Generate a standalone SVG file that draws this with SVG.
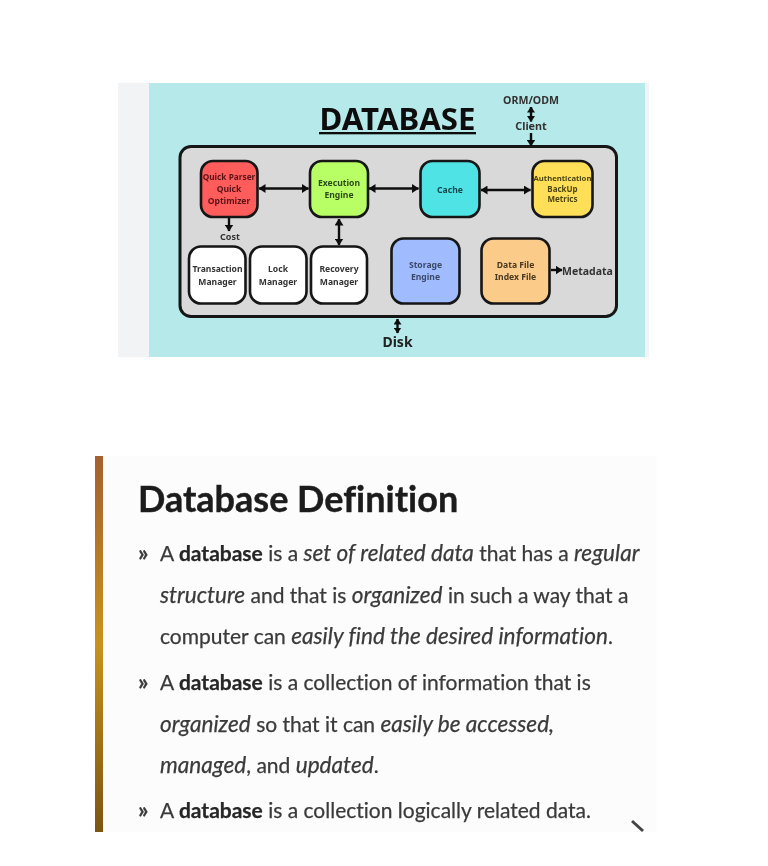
<svg xmlns="http://www.w3.org/2000/svg" width="768" height="866" viewBox="0 0 768 866">
<style>
.n{stroke:#141414;stroke-width:2.6}
.t{font-family:"Noto Sans","Open Sans",sans-serif;font-weight:700;text-anchor:middle;fill:#333}
.s{font-size:8.6px}
.c{stroke:#111;stroke-width:2.4;fill:none;marker-end:url(#a);marker-start:url(#b)}
.e{stroke:#111;stroke-width:2.4;fill:none;marker-end:url(#a)}
.h{font-family:Lato,"Open Sans",sans-serif;font-weight:700;font-size:36px;fill:#1c1c1c;stroke:#1c1c1c;stroke-width:.4;font-variant-ligatures:none}
.l{font-family:Lato,"Open Sans",sans-serif;font-size:21px;fill:#3a3a3a;stroke:#3a3a3a;stroke-width:.25;font-variant-ligatures:none}
.b{font-weight:700;font-size:23px}
.l tspan.d{font-weight:700;fill:#262626;stroke:#262626}
.l tspan.i{font-style:italic;font-size:22.6px}
</style>
<defs>
<marker id="a" viewBox="0 0 7 9" refX="6.500" refY="4.500" markerWidth="7" markerHeight="9" orient="auto" markerUnits="userSpaceOnUse"><path d="M0 0L7 4.500L0 9z" fill="#111"/></marker>
<marker id="b" viewBox="0 0 7 9" refX="0.500" refY="4.500" markerWidth="7" markerHeight="9" orient="auto" markerUnits="userSpaceOnUse"><path d="M7 0L0 4.500L7 9z" fill="#111"/></marker>
<marker id="a2" viewBox="0 0 6 8" refX="5.500" refY="4" markerWidth="6" markerHeight="8" orient="auto" markerUnits="userSpaceOnUse"><path d="M0 0L6 4L0 8z" fill="#111"/></marker>
<marker id="b2" viewBox="0 0 6 8" refX="0.500" refY="4" markerWidth="6" markerHeight="8" orient="auto" markerUnits="userSpaceOnUse"><path d="M6 0L0 4L6 8z" fill="#111"/></marker>
<linearGradient id="bar" x1="0" y1="0" x2="0" y2="1"><stop offset="0" stop-color="#a4602f"/><stop offset="0.5" stop-color="#c8921c"/><stop offset="1" stop-color="#7c5512"/></linearGradient>
<filter id="soft" x="-5%" y="-5%" width="110%" height="110%"><feGaussianBlur stdDeviation="0.45"/></filter>
<filter id="soft2" x="-5%" y="-5%" width="110%" height="110%"><feGaussianBlur stdDeviation="0.65"/></filter>
</defs>
<rect width="768" height="866" fill="#fff"/>
<rect x="118" y="83" width="31" height="274" fill="#f2f3f5"/>
<rect x="645" y="83" width="4" height="274" fill="#f2f3f5"/>
<rect x="149" y="83" width="496" height="274" fill="#b6e9e9"/>
<g filter="url(#soft)">
<g id="title"><text x="397.500" y="129.500" text-anchor="middle" font-family="'Noto Sans','Open Sans',sans-serif" font-weight="700" font-size="29.500" textLength="156" lengthAdjust="spacingAndGlyphs" fill="#111">DATABASE</text><rect x="319" y="132" width="157" height="2.300" fill="#111"/></g>
<g id="container"><rect x="180" y="146.500" width="436.500" height="170" rx="11" fill="#d9d9d9" stroke="#141414" stroke-width="3"/></g>
<g id="connectors">
<path class="c" d="M259 188.500H308.500"/>
<path class="c" d="M369 188.500H418.500"/>
<path class="c" d="M481 190H530.500"/>
<path class="e" d="M229 218V231"/>
<path class="c" d="M339 219V245"/>
<path class="c" style="marker-start:url(#b2);marker-end:url(#a2)" d="M531 107V121.500"/>
<path class="e" d="M531 133V146"/>
<path class="c" style="marker-start:url(#b2);marker-end:url(#a2)" d="M397.500 319V333"/>
<path class="e" d="M551 270H562"/>
</g>
<g id="quick"><rect class="n" x="201" y="161" width="56.500" height="56" rx="12" fill="#ff5c5c"/><text class="t" style="fill:#5a1418" x="229" y="180" font-size="8.300">Quick Parser</text><text class="t s" style="fill:#5a1418" x="229" y="192">Quick</text><text class="t s" style="fill:#5a1418" x="229" y="204">Optimizer</text></g>
<g id="execution"><rect class="n" x="310" y="161" width="58" height="56" rx="12" fill="#b8ff66"/><text class="t s" style="fill:#2c4a1a" x="339" y="186">Execution</text><text class="t s" style="fill:#2c4a1a" x="339" y="198">Engine</text></g>
<g id="cache"><rect class="n" x="420.500" y="161" width="59" height="56" rx="12" fill="#50e3e6"/><text class="t s" style="fill:#15474d" x="450" y="193">Cache</text></g>
<g id="auth"><rect class="n" x="532.500" y="161" width="60" height="56" rx="12" fill="#ffde59"/><text class="t" style="fill:#4f4712" x="562.500" y="181" font-size="7.700">Authentication</text><text class="t" style="fill:#4f4712" x="562.500" y="192" font-size="8">BackUp</text><text class="t" style="fill:#4f4712" x="562.500" y="202" font-size="8">Metrics</text></g>
<g id="cost"><text class="t" x="230" y="240" font-size="9">Cost</text></g>
<g id="transaction"><rect class="n" x="189" y="246.500" width="56.500" height="57" rx="12" fill="#fff"/><text class="t s" x="217.500" y="272">Transaction</text><text class="t s" x="217.500" y="285">Manager</text></g>
<g id="lock"><rect class="n" x="250" y="246.500" width="56.500" height="57" rx="12" fill="#fff"/><text class="t s" x="278" y="272">Lock</text><text class="t s" x="278" y="285">Manager</text></g>
<g id="recovery"><rect class="n" x="311" y="246.500" width="56" height="57" rx="12" fill="#fff"/><text class="t s" x="339" y="272">Recovery</text><text class="t s" x="339" y="285">Manager</text></g>
<g id="storage"><rect class="n" x="391.500" y="238.500" width="68" height="65" rx="12" fill="#a0bcff"/><text class="t s" style="fill:#3a4a68" x="425.500" y="268">Storage</text><text class="t s" style="fill:#3a4a68" x="425.500" y="280">Engine</text></g>
<g id="datafile"><rect class="n" x="481.500" y="238.500" width="68" height="65" rx="12" fill="#fbcb8a"/><text class="t s" style="fill:#4a3a24" x="515.500" y="268">Data File</text><text class="t s" style="fill:#4a3a24" x="515.500" y="280">Index File</text></g>
<g id="metadata"><text class="t" x="587.500" y="275" font-size="10.500">Metadata</text></g>
<g id="orm"><text class="t" x="531" y="104" font-size="10.600">ORM/ODM</text></g>
<g id="client"><text class="t" x="531" y="130" font-size="10.800">Client</text></g>
<g id="disk"><text class="t" style="fill:#222" x="397.500" y="347" font-size="14">Disk</text></g>
</g>
<rect x="103" y="456" width="554" height="376" fill="#fcfcfc"/>
<rect x="95" y="456" width="8" height="376" fill="url(#bar)"/>
<g filter="url(#soft2)">
<text class="h" x="138" y="512">Database Definition</text>
<text class="l b" x="138" y="561">»</text>
<text class="l" x="160" y="561">A <tspan class="d">database</tspan> is a <tspan class="i">set of related data</tspan> that has a <tspan class="i">regular</tspan></text>
<text class="l" x="160" y="603"><tspan class="i">structure</tspan> and that is <tspan class="i">organized</tspan> in such a way that a</text>
<text class="l" x="160" y="644">computer can <tspan class="i">easily find the desired information</tspan>.</text>
<text class="l b" x="138" y="690">»</text>
<text class="l" x="160" y="690">A <tspan class="d">database</tspan> is a collection of information that is</text>
<text class="l" x="160" y="732"><tspan class="i">organized</tspan> so that it can <tspan class="i">easily be accessed,</tspan></text>
<text class="l" x="160" y="773"><tspan class="i">managed</tspan>, and <tspan class="i">updated</tspan>.</text>
<text class="l b" x="138" y="818">»</text>
<text class="l" x="160" y="818">A <tspan class="d">database</tspan> is a collection logically related data.</text>
<path d="M632 821L643 831" stroke="#444" stroke-width="3" fill="none"/>
</g>
</svg>
